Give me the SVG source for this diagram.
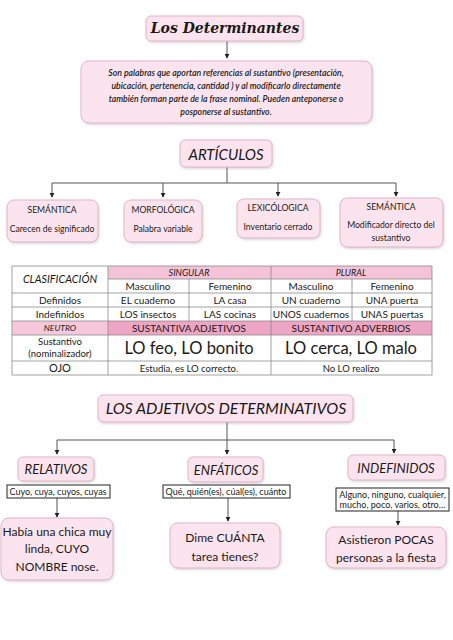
<svg xmlns="http://www.w3.org/2000/svg" width="453" height="640" viewBox="0 0 453 640">
<defs>
<marker id="arr" viewBox="0 0 6 6" refX="5" refY="3" markerWidth="5" markerHeight="5" orient="auto">
<path d="M0,0 L6,3 L0,6 z" fill="#222"/>
</marker>
<filter id="sh" x="-10%" y="-10%" width="130%" height="140%">
<feDropShadow dx="1" dy="1.5" stdDeviation="1" flood-color="#999" flood-opacity="0.35"/>
</filter>
</defs>
<style>
text{font-family:Lato,"Liberation Sans",sans-serif;fill:#1a1a1a;text-anchor:middle}
.box{fill:#fce4ee;stroke:#e3b2c6;stroke-width:1;filter:url(#sh)}
.wbox{fill:#fff;stroke:#222;stroke-width:1}
.con{fill:none;stroke:#555;stroke-width:1}
.ar{marker-end:url(#arr)}
.it{font-style:italic}
.grid{stroke:#8a8a8a;stroke-width:0.8;fill:none}
.s8{font-size:8.6px}
.s9{font-size:9.5px}
.l9{font-size:9px}
.t{font-size:10px}
</style>
<rect width="453" height="640" fill="#fff"/>

<g id="connectors">
<path class="con ar" d="M227,41 V58"/>
<path class="con" d="M227,167 V183 M52,183 H396"/>
<path class="con ar" d="M52,183 V197"/>
<path class="con ar" d="M163,183 V197"/>
<path class="con ar" d="M278,183 V196"/>
<path class="con ar" d="M396,183 V196"/>
<path class="con" d="M227,422 V440 M57,440 H394"/>
<path class="con ar" d="M57,440 V454"/>
<path class="con ar" d="M227,440 V454"/>
<path class="con ar" d="M394,440 V453"/>
<path class="con ar" d="M57,498 V517"/>
<path class="con ar" d="M228,498 V521"/>
<path class="con ar" d="M398,511 V525"/>
</g>

<g id="title">
<rect class="box" x="146" y="16" width="157" height="25" rx="5"/>
<text x="225" y="33" style="font-size:14px;font-weight:900;font-style:italic;font-family:'DejaVu Serif',serif">Los Determinantes</text>
</g>

<g id="definicion">
<rect class="box" x="81" y="61" width="291" height="62" rx="8"/>
<text class="it" style="font-size:8.7px;font-weight:600" x="226" y="76">Son palabras que aportan referencias al sustantivo (presentación,</text>
<text class="it" style="font-size:8.7px;font-weight:600" x="226" y="89">ubicación, pertenencia, cantidad ) y al modificarlo directamente</text>
<text class="it" style="font-size:8.7px;font-weight:600" x="226" y="102">también forman parte de la frase nominal. Pueden anteponerse o</text>
<text class="it" style="font-size:8.7px;font-weight:600" x="226" y="115">posponerse al sustantivo.</text>
</g>

<g id="articulos">
<rect class="box" x="180" y="140" width="92" height="27" rx="5"/>
<text class="it" x="226" y="160" style="font-size:15px">ARTÍCULOS</text>
</g>

<g id="semantica1">
<rect class="box" x="7" y="200" width="91" height="42" rx="7"/>
<text class="s8" x="52" y="213">SEMÁNTICA</text>
<text class="s8" x="52" y="232">Carecen de significado</text>
</g>
<g id="morfologica">
<rect class="box" x="124" y="200" width="78" height="42" rx="7"/>
<text class="s8" x="163" y="213">MORFOLÓGICA</text>
<text class="s8" x="163" y="232">Palabra variable</text>
</g>
<g id="lexicologica">
<rect class="box" x="237" y="199" width="83" height="39" rx="7"/>
<text class="s8" x="278" y="211">LEXICÓLOGICA</text>
<text class="s8" x="278" y="230">Inventario cerrado</text>
</g>
<g id="semantica2">
<rect class="box" x="340" y="198" width="103" height="49" rx="7"/>
<text class="s8" x="391" y="210">SEMÁNTICA</text>
<text class="s8" x="391" y="228">Modificador directo del</text>
<text class="s8" x="391" y="241">sustantivo</text>
</g>

<g id="tabla">
<rect x="108" y="266" width="324" height="13" fill="#f5c3d7"/>
<rect x="12" y="321" width="96" height="14" fill="#f6c8da"/>
<rect x="108" y="321" width="324" height="14" fill="#eea5c4"/>
<rect class="grid" x="12" y="266" width="420" height="109"/>
<path class="grid" d="M108,279 H432 M12,293 H432 M12,307 H432 M12,321 H432 M12,335 H432 M12,361 H432 M108,266 V375 M271,266 V375 M189,279 V321 M352,279 V321"/>
<text class="it" x="60" y="283" style="font-size:10.8px">CLASIFICACIÓN</text>
<text class="it l9" x="189" y="275.8">SINGULAR</text>
<text class="it l9" x="351" y="275.8">PLURAL</text>
<text class="t" x="148" y="290">Masculino</text>
<text class="t" x="230" y="290">Femenino</text>
<text class="t" x="311" y="290">Masculino</text>
<text class="t" x="392" y="290">Femenino</text>
<text class="t" x="60" y="304">Definidos</text>
<text class="t" x="148" y="304">EL cuaderno</text>
<text class="t" x="230" y="304">LA casa</text>
<text class="t" x="311" y="304">UN cuaderno</text>
<text class="t" x="392" y="304">UNA puerta</text>
<text class="t" x="60" y="318">Indefinidos</text>
<text class="t" x="148" y="318">LOS insectos</text>
<text class="t" x="230" y="318">LAS cocinas</text>
<text class="t" x="311" y="318">UNOS cuadernos</text>
<text class="t" x="392" y="318">UNAS puertas</text>
<text class="it" x="60" y="331" style="font-size:8.5px">NEUTRO</text>
<text class="t" x="189" y="331.5">SUSTANTIVA ADJETIVOS</text>
<text class="t" x="351" y="331.5">SUSTANTIVO ADVERBIOS</text>
<text x="60" y="345" style="font-size:9.5px">Sustantivo</text>
<text x="60" y="357" style="font-size:9.5px">(nominalizador)</text>
<text x="189" y="354" style="font-size:16.5px">LO feo, LO bonito</text>
<text x="351" y="354" style="font-size:16.5px">LO cerca, LO malo</text>
<text x="60" y="372" style="font-size:11px">OJO</text>
<text class="s9" x="189" y="371.5">Estudia, es LO correcto.</text>
<text class="s9" x="351" y="371.5">No LO realizo</text>
</g>

<g id="adjetivos">
<rect class="box" x="98" y="395" width="255" height="27" rx="5"/>
<text class="it" x="226" y="414" style="font-size:16px">LOS ADJETIVOS DETERMINATIVOS</text>
</g>

<g id="relativos">
<rect class="box" x="18" y="457" width="76" height="24" rx="5"/>
<text class="it" x="56" y="474" style="font-size:13px">RELATIVOS</text>
</g>
<g id="enfaticos">
<rect class="box" x="188" y="457" width="75" height="25" rx="5"/>
<text class="it" x="226" y="475" style="font-size:13px">ENFÁTICOS</text>
</g>
<g id="indefinidos">
<rect class="box" x="348" y="455" width="97" height="25" rx="5"/>
<text class="it" x="396" y="473" style="font-size:13px">INDEFINIDOS</text>
</g>

<g id="lista-relativos">
<rect class="wbox" x="7" y="485" width="103" height="13"/>
<text class="l9" x="58" y="494.5">Cuyo, cuya, cuyos, cuyas</text>
</g>
<g id="lista-enfaticos">
<rect class="wbox" x="163" y="485" width="127" height="13"/>
<text class="l9" x="226" y="494.5">Qué, quién(es), cúal(es), cuánto</text>
</g>
<g id="lista-indefinidos">
<rect class="wbox" x="336" y="488" width="113" height="23"/>
<text class="l9" x="392.5" y="497.5">Alguno, ninguno, cualquier,</text>
<text class="l9" x="392.5" y="508">mucho, poco, varios, otro…</text>
</g>

<g id="ejemplo-relativos">
<rect class="box" x="1" y="518" width="112" height="62" rx="8"/>
<text x="57" y="536" style="font-size:12px">Había una chica muy</text>
<text x="57" y="553" style="font-size:12px">linda, CUYO</text>
<text x="57" y="571" style="font-size:12px">NOMBRE nose.</text>
</g>
<g id="ejemplo-enfaticos">
<rect class="box" x="170" y="523" width="110" height="45" rx="8"/>
<text x="225" y="542" style="font-size:12px">Dime CUÁNTA</text>
<text x="225" y="561" style="font-size:12px">tarea tienes?</text>
</g>
<g id="ejemplo-indefinidos">
<rect class="box" x="326" y="527" width="120" height="41" rx="8"/>
<text x="386" y="544" style="font-size:12px">Asistieron POCAS</text>
<text x="386" y="562" style="font-size:12px">personas a la fiesta</text>
</g>
</svg>
